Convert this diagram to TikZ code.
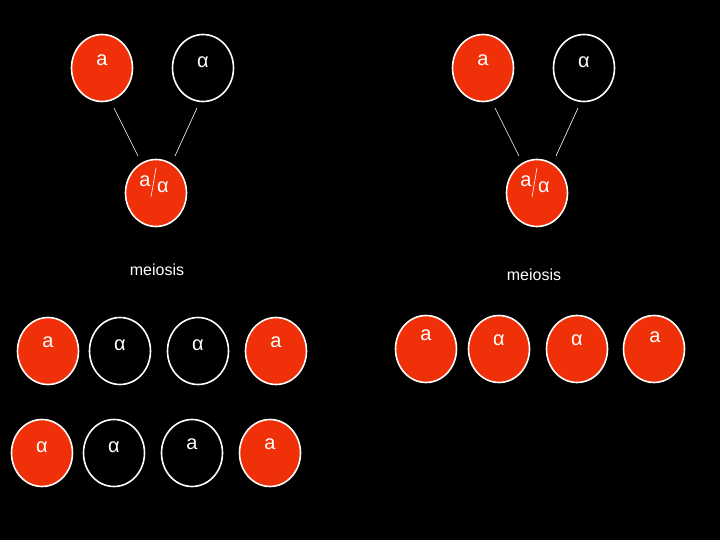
\documentclass[tikz,border=0pt]{standalone}
\usepackage{fontspec}
\setmainfont{Liberation Sans}
\usetikzlibrary{shapes.geometric}
\begin{document}
\begin{tikzpicture}[x=1pt,y=-1pt,
 cell/.style={ellipse,draw=white,line width=1.6pt,minimum width=61pt,minimum height=67pt,inner sep=0pt},
 red/.style={cell,fill={rgb,255:red,240;green,48;blue,8}},
 blk/.style={cell,fill=black},
 lbl/.style={text=white,font=\fontsize{20}{20}\selectfont,inner sep=0pt},
 lnk/.style={draw=white,line width=0.6pt}]
\useasboundingbox[fill=black] (0,0) rectangle (720,540);
\foreach \ox/\n in {0/L,381/R}{
 \node[red] (\n p1) at (102+\ox,68) {};
 \node[blk] (\n p2) at (203+\ox,68) {};
 \node[red] (\n m) at (156+\ox,193) {};
 \node[lbl] (\n t1) at (102+\ox,60) {a};
 \node[lbl] (\n t2) at (203+\ox,62) {α};
 \node[lbl] (\n ta) at (145+\ox,181) {a};
 \node[lbl] (\n tb) at (163+\ox,187) {α};
 \coordinate (\n s1) at (156+\ox,168);
 \coordinate (\n s2) at (151+\ox,197);
 \draw[lnk] (\n s1) -- (\n s2);
 \coordinate (\n a1) at (114+\ox,108); \coordinate (\n a2) at (138+\ox,156);
 \coordinate (\n b1) at (197+\ox,108); \coordinate (\n b2) at (175+\ox,156);
 \draw[lnk] (\n a1) -- (\n a2);
 \draw[lnk] (\n b1) -- (\n b2);
}
\node[lbl,font=\fontsize{16}{16}\selectfont] (Lmei) at (157,270) {meiosis};
\node[lbl,font=\fontsize{16}{16}\selectfont] (Rmei) at (534,275) {meiosis};
\node[red] (c1) at (48,351) {}; \node[lbl] at (48,342) {a};
\node[blk] (c2) at (120,351) {}; \node[lbl] at (120,345) {α};
\node[blk] (c3) at (198,351) {}; \node[lbl] at (198,345) {α};
\node[red] (c4) at (276,351) {}; \node[lbl] at (276,342) {a};
\node[red] (d1) at (42,453) {}; \node[lbl] at (42,447) {α};
\node[blk] (d2) at (114,453) {}; \node[lbl] at (114,447) {α};
\node[blk] (d3) at (192,453) {}; \node[lbl] at (192,444) {a};
\node[red] (d4) at (270,453) {}; \node[lbl] at (270,444) {a};
\node[red] (e1) at (426,349) {}; \node[lbl] at (426,335) {a};
\node[red] (e2) at (499,349) {}; \node[lbl] at (499,340) {α};
\node[red] (e3) at (577,349) {}; \node[lbl] at (577,340) {α};
\node[red] (e4) at (654,349) {}; \node[lbl] at (655,337) {a};
\end{tikzpicture}
\end{document}
